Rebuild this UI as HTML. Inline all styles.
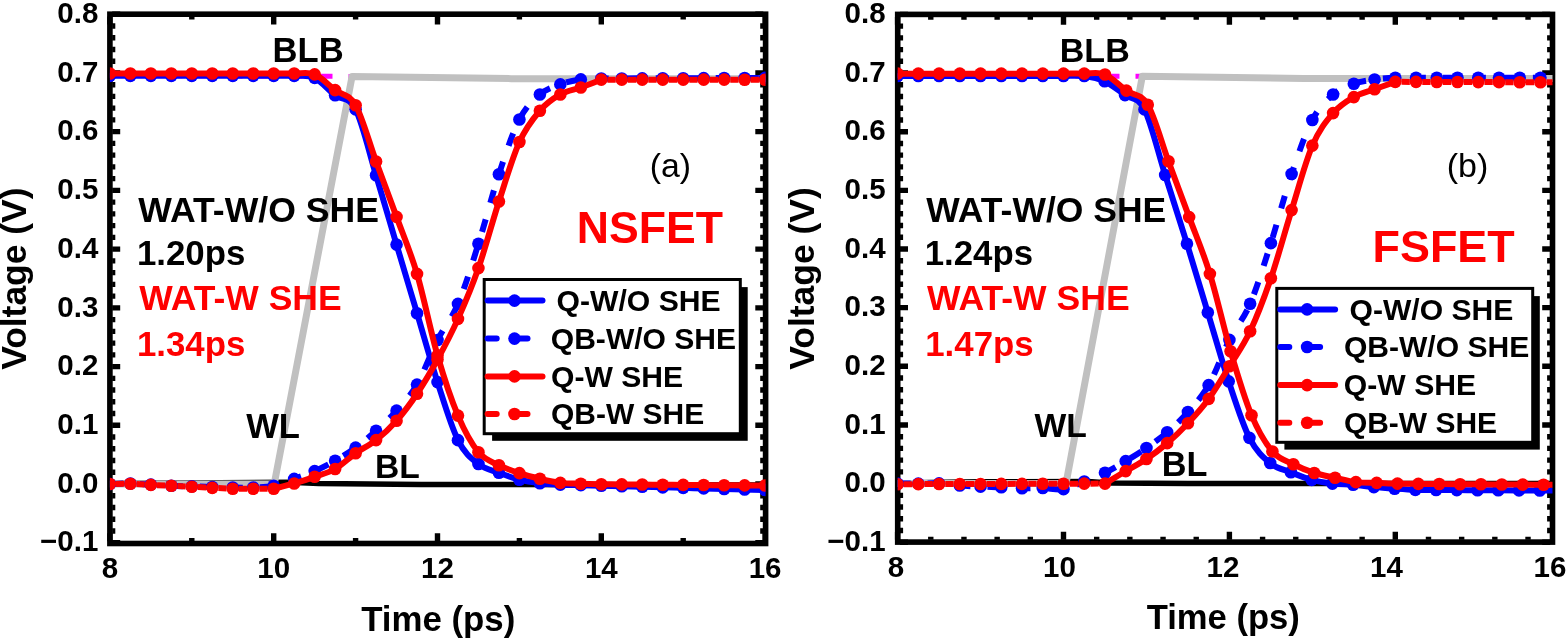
<!DOCTYPE html>
<html><head><meta charset="utf-8"><title>Voltage vs Time</title>
<style>html,body{margin:0;padding:0;background:#fff;}svg{display:block;}</style>
</head><body>
<svg width="1566" height="639" viewBox="0 0 1566 639" font-family="'Liberation Sans', Arial, sans-serif">
<rect width="1566" height="639" fill="#fff"/>
<rect x="109.9" y="14.2" width="655.7" height="529.3" fill="none" stroke="#000" stroke-width="5.6"/>
<path d="M112.20,542.77 h8.0 M763.30,542.77 h-8.0 M112.20,531.02 h3.1 M763.30,531.02 h-3.1 M112.20,519.28 h3.1 M763.30,519.28 h-3.1 M112.20,507.53 h3.1 M763.30,507.53 h-3.1 M112.20,495.79 h3.1 M763.30,495.79 h-3.1 M112.20,484.04 h8.0 M763.30,484.04 h-8.0 M112.20,472.29 h3.1 M763.30,472.29 h-3.1 M112.20,460.55 h3.1 M763.30,460.55 h-3.1 M112.20,448.80 h3.1 M763.30,448.80 h-3.1 M112.20,437.06 h3.1 M763.30,437.06 h-3.1 M112.20,425.31 h8.0 M763.30,425.31 h-8.0 M112.20,413.56 h3.1 M763.30,413.56 h-3.1 M112.20,401.82 h3.1 M763.30,401.82 h-3.1 M112.20,390.07 h3.1 M763.30,390.07 h-3.1 M112.20,378.33 h3.1 M763.30,378.33 h-3.1 M112.20,366.58 h8.0 M763.30,366.58 h-8.0 M112.20,354.83 h3.1 M763.30,354.83 h-3.1 M112.20,343.09 h3.1 M763.30,343.09 h-3.1 M112.20,331.34 h3.1 M763.30,331.34 h-3.1 M112.20,319.60 h3.1 M763.30,319.60 h-3.1 M112.20,307.85 h8.0 M763.30,307.85 h-8.0 M112.20,296.10 h3.1 M763.30,296.10 h-3.1 M112.20,284.36 h3.1 M763.30,284.36 h-3.1 M112.20,272.61 h3.1 M763.30,272.61 h-3.1 M112.20,260.87 h3.1 M763.30,260.87 h-3.1 M112.20,249.12 h8.0 M763.30,249.12 h-8.0 M112.20,237.37 h3.1 M763.30,237.37 h-3.1 M112.20,225.63 h3.1 M763.30,225.63 h-3.1 M112.20,213.88 h3.1 M763.30,213.88 h-3.1 M112.20,202.14 h3.1 M763.30,202.14 h-3.1 M112.20,190.39 h8.0 M763.30,190.39 h-8.0 M112.20,178.64 h3.1 M763.30,178.64 h-3.1 M112.20,166.90 h3.1 M763.30,166.90 h-3.1 M112.20,155.15 h3.1 M763.30,155.15 h-3.1 M112.20,143.41 h3.1 M763.30,143.41 h-3.1 M112.20,131.66 h8.0 M763.30,131.66 h-8.0 M112.20,119.91 h3.1 M763.30,119.91 h-3.1 M112.20,108.17 h3.1 M763.30,108.17 h-3.1 M112.20,96.42 h3.1 M763.30,96.42 h-3.1 M112.20,84.68 h3.1 M763.30,84.68 h-3.1 M112.20,72.93 h8.0 M763.30,72.93 h-8.0 M112.20,61.18 h3.1 M763.30,61.18 h-3.1 M112.20,49.44 h3.1 M763.30,49.44 h-3.1 M112.20,37.69 h3.1 M763.30,37.69 h-3.1 M112.20,25.95 h3.1 M763.30,25.95 h-3.1 M112.20,14.20 h8.0 M763.30,14.20 h-8.0 M109.90,541.20 v-8.0 M109.90,16.50 v8.0 M191.80,541.20 v-3.1 M191.80,16.50 v3.1 M273.70,541.20 v-8.0 M273.70,16.50 v8.0 M355.60,541.20 v-3.1 M355.60,16.50 v3.1 M437.50,541.20 v-8.0 M437.50,16.50 v8.0 M519.40,541.20 v-3.1 M519.40,16.50 v3.1 M601.30,541.20 v-8.0 M601.30,16.50 v8.0 M683.20,541.20 v-3.1 M683.20,16.50 v3.1 M765.10,541.20 v-8.0 M765.10,16.50 v8.0" stroke="#000" stroke-width="5.4" fill="none"/>
<clipPath id="ca"><rect x="109.9" y="14.2" width="655.7" height="529.3"/></clipPath>
<g clip-path="url(#ca)">
<path d="M101.71,75.28 L352.08,76.45 L511.21,78.63 L773.29,78.80" fill="none" stroke="#ff00ff" stroke-width="5" stroke-dasharray="14 16" stroke-dashoffset="23.2"/>
<path d="M101.71,483.57 L290.08,482.16 L318.75,483.57 L421.12,484.45 L773.29,484.92" fill="none" stroke="#000" stroke-width="5.5"/>
<path d="M101.71,484.04 L274.19,484.04 L352.08,76.45 L511.21,78.63 L773.29,78.80" fill="none" stroke="#c0c0c0" stroke-width="7" stroke-linejoin="round"/>
<path d="M109.90,484.04 C113.31,483.94 123.55,483.35 130.38,483.45 C137.20,483.55 144.03,484.24 150.85,484.63 C157.68,485.02 164.50,485.51 171.33,485.80 C178.15,486.10 184.98,486.19 191.80,486.39 C198.62,486.58 205.45,486.78 212.28,486.98 C219.10,487.17 225.93,487.47 232.75,487.56 C239.57,487.66 246.40,487.86 253.23,487.56 C260.05,487.27 266.88,487.25 273.70,485.80 C280.53,484.35 287.35,481.32 294.18,478.87 C301.00,476.42 307.82,474.13 314.65,471.12 C321.47,468.10 328.30,464.70 335.12,460.78 C341.95,456.87 348.78,452.64 355.60,447.63 C362.43,442.62 369.25,436.88 376.08,430.71 C382.90,424.55 389.73,418.31 396.55,410.63 C403.38,402.94 410.20,396.39 417.02,384.61 C423.85,372.83 430.68,353.42 437.50,339.98 C444.32,326.53 451.15,319.95 457.98,303.92 C464.80,287.88 471.63,265.40 478.45,243.78 C485.28,222.15 492.10,194.89 498.93,174.18 C505.75,153.47 512.58,132.80 519.40,119.50 C526.22,106.21 533.05,100.28 539.88,94.43 C546.70,88.57 553.52,86.89 560.35,84.38 C567.18,81.88 574.00,80.37 580.83,79.39 C587.65,78.41 594.48,78.67 601.30,78.51 C608.13,78.35 614.95,78.46 621.78,78.44 C628.60,78.41 635.42,78.39 642.25,78.36 C649.08,78.34 655.90,78.31 662.73,78.29 C669.55,78.26 676.38,78.24 683.20,78.22 C690.03,78.19 696.85,78.17 703.68,78.14 C710.50,78.12 717.33,78.09 724.15,78.07 C730.97,78.04 737.80,78.02 744.62,78.00 C751.45,77.97 761.69,77.93 765.10,77.92" fill="none" stroke="#0000ff" stroke-width="6.0" stroke-dasharray="13 17"/>
<circle cx="109.90" cy="484.04" r="6.3" fill="#0000ff"/>
<circle cx="130.38" cy="483.45" r="6.3" fill="#0000ff"/>
<circle cx="150.85" cy="484.63" r="6.3" fill="#0000ff"/>
<circle cx="171.33" cy="485.80" r="6.3" fill="#0000ff"/>
<circle cx="191.80" cy="486.39" r="6.3" fill="#0000ff"/>
<circle cx="212.28" cy="486.98" r="6.3" fill="#0000ff"/>
<circle cx="232.75" cy="487.56" r="6.3" fill="#0000ff"/>
<circle cx="253.23" cy="487.56" r="6.3" fill="#0000ff"/>
<circle cx="273.70" cy="485.80" r="6.3" fill="#0000ff"/>
<circle cx="294.18" cy="478.87" r="6.3" fill="#0000ff"/>
<circle cx="314.65" cy="471.12" r="6.3" fill="#0000ff"/>
<circle cx="335.12" cy="460.78" r="6.3" fill="#0000ff"/>
<circle cx="355.60" cy="447.63" r="6.3" fill="#0000ff"/>
<circle cx="376.08" cy="430.71" r="6.3" fill="#0000ff"/>
<circle cx="396.55" cy="410.63" r="6.3" fill="#0000ff"/>
<circle cx="417.02" cy="384.61" r="6.3" fill="#0000ff"/>
<circle cx="437.50" cy="339.98" r="6.3" fill="#0000ff"/>
<circle cx="457.98" cy="303.92" r="6.3" fill="#0000ff"/>
<circle cx="478.45" cy="243.78" r="6.3" fill="#0000ff"/>
<circle cx="498.93" cy="174.18" r="6.3" fill="#0000ff"/>
<circle cx="519.40" cy="119.50" r="6.3" fill="#0000ff"/>
<circle cx="539.88" cy="94.43" r="6.3" fill="#0000ff"/>
<circle cx="560.35" cy="84.38" r="6.3" fill="#0000ff"/>
<circle cx="580.83" cy="79.39" r="6.3" fill="#0000ff"/>
<circle cx="601.30" cy="78.51" r="6.3" fill="#0000ff"/>
<circle cx="621.78" cy="78.44" r="6.3" fill="#0000ff"/>
<circle cx="642.25" cy="78.36" r="6.3" fill="#0000ff"/>
<circle cx="662.73" cy="78.29" r="6.3" fill="#0000ff"/>
<circle cx="683.20" cy="78.22" r="6.3" fill="#0000ff"/>
<circle cx="703.68" cy="78.14" r="6.3" fill="#0000ff"/>
<circle cx="724.15" cy="78.07" r="6.3" fill="#0000ff"/>
<circle cx="744.62" cy="78.00" r="6.3" fill="#0000ff"/>
<circle cx="765.10" cy="77.92" r="6.3" fill="#0000ff"/>
<path d="M109.90,75.87 C113.31,75.87 123.55,75.87 130.38,75.87 C137.20,75.87 144.03,75.87 150.85,75.87 C157.68,75.87 164.50,75.87 171.33,75.87 C178.15,75.87 184.98,75.87 191.80,75.87 C198.62,75.87 205.45,75.87 212.28,75.87 C219.10,75.87 225.93,75.87 232.75,75.87 C239.57,75.87 246.40,75.87 253.23,75.87 C260.05,75.87 266.88,75.87 273.70,75.87 C280.53,75.87 287.35,75.52 294.18,75.87 C301.00,76.21 307.82,74.69 314.65,77.92 C321.47,81.15 328.30,90.01 335.12,95.25 C341.95,100.48 348.78,96.00 355.60,109.34 C362.43,122.68 369.25,152.75 376.08,175.30 C382.90,197.84 389.73,221.61 396.55,244.60 C403.38,267.58 410.20,290.28 417.02,313.19 C423.85,336.11 430.68,360.92 437.50,382.08 C444.32,403.25 451.15,426.51 457.98,440.17 C464.80,453.82 471.63,458.59 478.45,464.01 C485.28,469.44 492.10,470.09 498.93,472.71 C505.75,475.32 512.58,477.94 519.40,479.69 C526.22,481.45 533.05,482.40 539.88,483.22 C546.70,484.04 553.52,484.30 560.35,484.63 C567.18,484.95 574.00,484.99 580.83,485.17 C587.65,485.35 594.48,485.53 601.30,485.71 C608.13,485.89 614.95,486.07 621.78,486.25 C628.60,486.43 635.42,486.61 642.25,486.79 C649.08,486.97 655.90,487.15 662.73,487.33 C669.55,487.51 676.38,487.69 683.20,487.87 C690.03,488.05 696.85,488.23 703.68,488.41 C710.50,488.59 717.33,488.77 724.15,488.95 C730.97,489.13 737.80,489.31 744.62,489.49 C751.45,489.67 761.69,489.94 765.10,490.03" fill="none" stroke="#0000ff" stroke-width="6.0" stroke-linejoin="round"/>
<circle cx="109.90" cy="75.87" r="6.3" fill="#0000ff"/>
<circle cx="130.38" cy="75.87" r="6.3" fill="#0000ff"/>
<circle cx="150.85" cy="75.87" r="6.3" fill="#0000ff"/>
<circle cx="171.33" cy="75.87" r="6.3" fill="#0000ff"/>
<circle cx="191.80" cy="75.87" r="6.3" fill="#0000ff"/>
<circle cx="212.28" cy="75.87" r="6.3" fill="#0000ff"/>
<circle cx="232.75" cy="75.87" r="6.3" fill="#0000ff"/>
<circle cx="253.23" cy="75.87" r="6.3" fill="#0000ff"/>
<circle cx="273.70" cy="75.87" r="6.3" fill="#0000ff"/>
<circle cx="294.18" cy="75.87" r="6.3" fill="#0000ff"/>
<circle cx="314.65" cy="77.92" r="6.3" fill="#0000ff"/>
<circle cx="335.12" cy="95.25" r="6.3" fill="#0000ff"/>
<circle cx="355.60" cy="109.34" r="6.3" fill="#0000ff"/>
<circle cx="376.08" cy="175.30" r="6.3" fill="#0000ff"/>
<circle cx="396.55" cy="244.60" r="6.3" fill="#0000ff"/>
<circle cx="417.02" cy="313.19" r="6.3" fill="#0000ff"/>
<circle cx="437.50" cy="382.08" r="6.3" fill="#0000ff"/>
<circle cx="457.98" cy="440.17" r="6.3" fill="#0000ff"/>
<circle cx="478.45" cy="464.01" r="6.3" fill="#0000ff"/>
<circle cx="498.93" cy="472.71" r="6.3" fill="#0000ff"/>
<circle cx="519.40" cy="479.69" r="6.3" fill="#0000ff"/>
<circle cx="539.88" cy="483.22" r="6.3" fill="#0000ff"/>
<circle cx="560.35" cy="484.63" r="6.3" fill="#0000ff"/>
<circle cx="580.83" cy="485.17" r="6.3" fill="#0000ff"/>
<circle cx="601.30" cy="485.71" r="6.3" fill="#0000ff"/>
<circle cx="621.78" cy="486.25" r="6.3" fill="#0000ff"/>
<circle cx="642.25" cy="486.79" r="6.3" fill="#0000ff"/>
<circle cx="662.73" cy="487.33" r="6.3" fill="#0000ff"/>
<circle cx="683.20" cy="487.87" r="6.3" fill="#0000ff"/>
<circle cx="703.68" cy="488.41" r="6.3" fill="#0000ff"/>
<circle cx="724.15" cy="488.95" r="6.3" fill="#0000ff"/>
<circle cx="744.62" cy="489.49" r="6.3" fill="#0000ff"/>
<circle cx="765.10" cy="490.03" r="6.3" fill="#0000ff"/>
<line x1="116.04" y1="483.95" x2="124.23" y2="483.83" stroke="#ff0000" stroke-width="6.0"/>
<line x1="136.52" y1="484.10" x2="144.71" y2="484.57" stroke="#ff0000" stroke-width="6.0"/>
<line x1="156.99" y1="485.19" x2="165.18" y2="485.54" stroke="#ff0000" stroke-width="6.0"/>
<line x1="177.47" y1="486.07" x2="185.66" y2="486.42" stroke="#ff0000" stroke-width="6.0"/>
<line x1="197.94" y1="487.04" x2="206.13" y2="487.51" stroke="#ff0000" stroke-width="6.0"/>
<line x1="218.42" y1="488.12" x2="226.61" y2="488.47" stroke="#ff0000" stroke-width="6.0"/>
<line x1="238.89" y1="488.74" x2="247.08" y2="488.74" stroke="#ff0000" stroke-width="6.0"/>
<line x1="259.37" y1="488.74" x2="267.56" y2="488.74" stroke="#ff0000" stroke-width="6.0"/>
<path d="M273.70,488.74 C277.11,487.86 287.35,485.44 294.18,483.45 C301.00,481.47 307.82,479.22 314.65,476.82 C321.47,474.41 328.30,472.94 335.12,469.01 C341.95,465.07 348.78,458.02 355.60,453.21 C362.43,448.39 369.25,445.51 376.08,440.11 C382.90,434.71 389.73,428.51 396.55,420.79 C403.38,413.06 410.20,403.98 417.02,393.77 C423.85,383.56 430.68,372.01 437.50,359.53 C444.32,347.05 451.15,334.13 457.98,318.89 C464.80,303.65 471.63,287.66 478.45,268.09 C485.28,248.52 492.10,222.51 498.93,201.49 C505.75,180.47 512.58,157.13 519.40,142.00 C526.22,126.86 533.05,118.62 539.88,110.69 C546.70,102.76 553.52,98.29 560.35,94.43 C567.18,90.56 574.00,89.96 580.83,87.50 C587.65,85.03 597.89,80.94 601.30,79.63" fill="none" stroke="#ff0000" stroke-width="6.0" stroke-linejoin="round"/>
<line x1="607.44" y1="79.63" x2="615.63" y2="79.63" stroke="#ff0000" stroke-width="6.0"/>
<line x1="627.92" y1="79.63" x2="636.11" y2="79.64" stroke="#ff0000" stroke-width="6.0"/>
<line x1="648.39" y1="79.64" x2="656.58" y2="79.65" stroke="#ff0000" stroke-width="6.0"/>
<line x1="668.87" y1="79.65" x2="677.06" y2="79.65" stroke="#ff0000" stroke-width="6.0"/>
<line x1="689.34" y1="79.66" x2="697.53" y2="79.66" stroke="#ff0000" stroke-width="6.0"/>
<line x1="709.82" y1="79.66" x2="718.01" y2="79.67" stroke="#ff0000" stroke-width="6.0"/>
<line x1="730.29" y1="79.67" x2="738.48" y2="79.67" stroke="#ff0000" stroke-width="6.0"/>
<line x1="750.77" y1="79.68" x2="758.96" y2="79.68" stroke="#ff0000" stroke-width="6.0"/>
<circle cx="109.90" cy="484.04" r="6.3" fill="#ff0000"/>
<circle cx="130.38" cy="483.75" r="6.3" fill="#ff0000"/>
<circle cx="150.85" cy="484.92" r="6.3" fill="#ff0000"/>
<circle cx="171.33" cy="485.80" r="6.3" fill="#ff0000"/>
<circle cx="191.80" cy="486.68" r="6.3" fill="#ff0000"/>
<circle cx="212.28" cy="487.86" r="6.3" fill="#ff0000"/>
<circle cx="232.75" cy="488.74" r="6.3" fill="#ff0000"/>
<circle cx="253.23" cy="488.74" r="6.3" fill="#ff0000"/>
<circle cx="273.70" cy="488.74" r="6.3" fill="#ff0000"/>
<circle cx="294.18" cy="483.45" r="6.3" fill="#ff0000"/>
<circle cx="314.65" cy="476.82" r="6.3" fill="#ff0000"/>
<circle cx="335.12" cy="469.01" r="6.3" fill="#ff0000"/>
<circle cx="355.60" cy="453.21" r="6.3" fill="#ff0000"/>
<circle cx="376.08" cy="440.11" r="6.3" fill="#ff0000"/>
<circle cx="396.55" cy="420.79" r="6.3" fill="#ff0000"/>
<circle cx="417.02" cy="393.77" r="6.3" fill="#ff0000"/>
<circle cx="437.50" cy="359.53" r="6.3" fill="#ff0000"/>
<circle cx="457.98" cy="318.89" r="6.3" fill="#ff0000"/>
<circle cx="478.45" cy="268.09" r="6.3" fill="#ff0000"/>
<circle cx="498.93" cy="201.49" r="6.3" fill="#ff0000"/>
<circle cx="519.40" cy="142.00" r="6.3" fill="#ff0000"/>
<circle cx="539.88" cy="110.69" r="6.3" fill="#ff0000"/>
<circle cx="560.35" cy="94.43" r="6.3" fill="#ff0000"/>
<circle cx="580.83" cy="87.50" r="6.3" fill="#ff0000"/>
<circle cx="601.30" cy="79.63" r="6.3" fill="#ff0000"/>
<circle cx="621.78" cy="79.63" r="6.3" fill="#ff0000"/>
<circle cx="642.25" cy="79.64" r="6.3" fill="#ff0000"/>
<circle cx="662.73" cy="79.65" r="6.3" fill="#ff0000"/>
<circle cx="683.20" cy="79.65" r="6.3" fill="#ff0000"/>
<circle cx="703.68" cy="79.66" r="6.3" fill="#ff0000"/>
<circle cx="724.15" cy="79.67" r="6.3" fill="#ff0000"/>
<circle cx="744.62" cy="79.68" r="6.3" fill="#ff0000"/>
<circle cx="765.10" cy="79.68" r="6.3" fill="#ff0000"/>
<path d="M109.90,73.52 C113.31,73.52 123.55,73.52 130.38,73.52 C137.20,73.52 144.03,73.52 150.85,73.52 C157.68,73.52 164.50,73.52 171.33,73.52 C178.15,73.52 184.98,73.52 191.80,73.52 C198.62,73.52 205.45,73.52 212.28,73.52 C219.10,73.52 225.93,73.52 232.75,73.52 C239.57,73.52 246.40,73.52 253.23,73.52 C260.05,73.52 266.88,73.52 273.70,73.52 C280.53,73.52 287.35,73.37 294.18,73.52 C301.00,73.66 307.82,71.64 314.65,74.40 C321.47,77.16 328.30,84.94 335.12,90.08 C341.95,95.22 348.78,93.33 355.60,105.23 C362.43,117.13 369.25,142.89 376.08,161.49 C382.90,180.10 389.73,198.14 396.55,216.88 C403.38,235.61 410.20,250.81 417.02,273.90 C423.85,296.99 430.68,331.80 437.50,355.42 C444.32,379.04 451.15,399.49 457.98,415.62 C464.80,431.75 471.63,443.95 478.45,452.21 C485.28,460.47 492.10,461.69 498.93,465.19 C505.75,468.68 512.58,470.91 519.40,473.17 C526.22,475.44 533.05,477.14 539.88,478.75 C546.70,480.37 553.52,482.03 560.35,482.87 C567.18,483.70 574.00,483.52 580.83,483.75 C587.65,483.97 594.48,484.11 601.30,484.22 C608.13,484.32 614.95,484.33 621.78,484.39 C628.60,484.44 635.42,484.50 642.25,484.55 C649.08,484.61 655.90,484.67 662.73,484.72 C669.55,484.78 676.38,484.84 683.20,484.89 C690.03,484.95 696.85,485.00 703.68,485.06 C710.50,485.12 717.33,485.17 724.15,485.23 C730.97,485.29 737.80,485.34 744.62,485.40 C751.45,485.45 761.69,485.54 765.10,485.57" fill="none" stroke="#ff0000" stroke-width="6.0" stroke-linejoin="round"/>
<circle cx="109.90" cy="73.52" r="6.3" fill="#ff0000"/>
<circle cx="130.38" cy="73.52" r="6.3" fill="#ff0000"/>
<circle cx="150.85" cy="73.52" r="6.3" fill="#ff0000"/>
<circle cx="171.33" cy="73.52" r="6.3" fill="#ff0000"/>
<circle cx="191.80" cy="73.52" r="6.3" fill="#ff0000"/>
<circle cx="212.28" cy="73.52" r="6.3" fill="#ff0000"/>
<circle cx="232.75" cy="73.52" r="6.3" fill="#ff0000"/>
<circle cx="253.23" cy="73.52" r="6.3" fill="#ff0000"/>
<circle cx="273.70" cy="73.52" r="6.3" fill="#ff0000"/>
<circle cx="294.18" cy="73.52" r="6.3" fill="#ff0000"/>
<circle cx="314.65" cy="74.40" r="6.3" fill="#ff0000"/>
<circle cx="335.12" cy="90.08" r="6.3" fill="#ff0000"/>
<circle cx="355.60" cy="105.23" r="6.3" fill="#ff0000"/>
<circle cx="376.08" cy="161.49" r="6.3" fill="#ff0000"/>
<circle cx="396.55" cy="216.88" r="6.3" fill="#ff0000"/>
<circle cx="417.02" cy="273.90" r="6.3" fill="#ff0000"/>
<circle cx="437.50" cy="355.42" r="6.3" fill="#ff0000"/>
<circle cx="457.98" cy="415.62" r="6.3" fill="#ff0000"/>
<circle cx="478.45" cy="452.21" r="6.3" fill="#ff0000"/>
<circle cx="498.93" cy="465.19" r="6.3" fill="#ff0000"/>
<circle cx="519.40" cy="473.17" r="6.3" fill="#ff0000"/>
<circle cx="539.88" cy="478.75" r="6.3" fill="#ff0000"/>
<circle cx="560.35" cy="482.87" r="6.3" fill="#ff0000"/>
<circle cx="580.83" cy="483.75" r="6.3" fill="#ff0000"/>
<circle cx="601.30" cy="484.22" r="6.3" fill="#ff0000"/>
<circle cx="621.78" cy="484.39" r="6.3" fill="#ff0000"/>
<circle cx="642.25" cy="484.55" r="6.3" fill="#ff0000"/>
<circle cx="662.73" cy="484.72" r="6.3" fill="#ff0000"/>
<circle cx="683.20" cy="484.89" r="6.3" fill="#ff0000"/>
<circle cx="703.68" cy="485.06" r="6.3" fill="#ff0000"/>
<circle cx="724.15" cy="485.23" r="6.3" fill="#ff0000"/>
<circle cx="744.62" cy="485.40" r="6.3" fill="#ff0000"/>
<circle cx="765.10" cy="485.57" r="6.3" fill="#ff0000"/>
</g>
<rect x="897.7" y="14.4" width="654.8" height="527.7" fill="none" stroke="#000" stroke-width="5.6"/>
<path d="M900.00,542.25 h8.0 M1550.20,542.25 h-8.0 M900.00,530.52 h3.1 M1550.20,530.52 h-3.1 M900.00,518.79 h3.1 M1550.20,518.79 h-3.1 M900.00,507.06 h3.1 M1550.20,507.06 h-3.1 M900.00,495.33 h3.1 M1550.20,495.33 h-3.1 M900.00,483.60 h8.0 M1550.20,483.60 h-8.0 M900.00,471.87 h3.1 M1550.20,471.87 h-3.1 M900.00,460.14 h3.1 M1550.20,460.14 h-3.1 M900.00,448.41 h3.1 M1550.20,448.41 h-3.1 M900.00,436.68 h3.1 M1550.20,436.68 h-3.1 M900.00,424.95 h8.0 M1550.20,424.95 h-8.0 M900.00,413.22 h3.1 M1550.20,413.22 h-3.1 M900.00,401.49 h3.1 M1550.20,401.49 h-3.1 M900.00,389.76 h3.1 M1550.20,389.76 h-3.1 M900.00,378.03 h3.1 M1550.20,378.03 h-3.1 M900.00,366.30 h8.0 M1550.20,366.30 h-8.0 M900.00,354.57 h3.1 M1550.20,354.57 h-3.1 M900.00,342.84 h3.1 M1550.20,342.84 h-3.1 M900.00,331.11 h3.1 M1550.20,331.11 h-3.1 M900.00,319.38 h3.1 M1550.20,319.38 h-3.1 M900.00,307.65 h8.0 M1550.20,307.65 h-8.0 M900.00,295.92 h3.1 M1550.20,295.92 h-3.1 M900.00,284.19 h3.1 M1550.20,284.19 h-3.1 M900.00,272.46 h3.1 M1550.20,272.46 h-3.1 M900.00,260.73 h3.1 M1550.20,260.73 h-3.1 M900.00,249.00 h8.0 M1550.20,249.00 h-8.0 M900.00,237.27 h3.1 M1550.20,237.27 h-3.1 M900.00,225.54 h3.1 M1550.20,225.54 h-3.1 M900.00,213.81 h3.1 M1550.20,213.81 h-3.1 M900.00,202.08 h3.1 M1550.20,202.08 h-3.1 M900.00,190.35 h8.0 M1550.20,190.35 h-8.0 M900.00,178.62 h3.1 M1550.20,178.62 h-3.1 M900.00,166.89 h3.1 M1550.20,166.89 h-3.1 M900.00,155.16 h3.1 M1550.20,155.16 h-3.1 M900.00,143.43 h3.1 M1550.20,143.43 h-3.1 M900.00,131.70 h8.0 M1550.20,131.70 h-8.0 M900.00,119.97 h3.1 M1550.20,119.97 h-3.1 M900.00,108.24 h3.1 M1550.20,108.24 h-3.1 M900.00,96.51 h3.1 M1550.20,96.51 h-3.1 M900.00,84.78 h3.1 M1550.20,84.78 h-3.1 M900.00,73.05 h8.0 M1550.20,73.05 h-8.0 M900.00,61.32 h3.1 M1550.20,61.32 h-3.1 M900.00,49.59 h3.1 M1550.20,49.59 h-3.1 M900.00,37.86 h3.1 M1550.20,37.86 h-3.1 M900.00,26.13 h3.1 M1550.20,26.13 h-3.1 M900.00,14.40 h8.0 M1550.20,14.40 h-8.0 M897.60,539.80 v-8.0 M897.60,16.70 v8.0 M930.78,539.80 v-3.1 M930.78,16.70 v3.1 M963.96,539.80 v-3.1 M963.96,16.70 v3.1 M997.14,539.80 v-3.1 M997.14,16.70 v3.1 M1030.32,539.80 v-3.1 M1030.32,16.70 v3.1 M1063.50,539.80 v-8.0 M1063.50,16.70 v8.0 M1096.68,539.80 v-3.1 M1096.68,16.70 v3.1 M1129.86,539.80 v-3.1 M1129.86,16.70 v3.1 M1163.04,539.80 v-3.1 M1163.04,16.70 v3.1 M1196.22,539.80 v-3.1 M1196.22,16.70 v3.1 M1229.40,539.80 v-8.0 M1229.40,16.70 v8.0 M1262.58,539.80 v-3.1 M1262.58,16.70 v3.1 M1295.76,539.80 v-3.1 M1295.76,16.70 v3.1 M1328.94,539.80 v-3.1 M1328.94,16.70 v3.1 M1362.12,539.80 v-3.1 M1362.12,16.70 v3.1 M1395.30,539.80 v-8.0 M1395.30,16.70 v8.0 M1428.48,539.80 v-3.1 M1428.48,16.70 v3.1 M1461.66,539.80 v-3.1 M1461.66,16.70 v3.1 M1494.84,539.80 v-3.1 M1494.84,16.70 v3.1 M1528.02,539.80 v-3.1 M1528.02,16.70 v3.1" stroke="#000" stroke-width="5.4" fill="none"/>
<clipPath id="cb"><rect x="897.7" y="14.4" width="654.8" height="527.7"/></clipPath>
<g clip-path="url(#cb)">
<path d="M889.31,75.69 L1142.30,76.28 L1304.06,78.50 L1569.50,78.68" fill="none" stroke="#ff00ff" stroke-width="5" stroke-dasharray="14 16" stroke-dashoffset="23.8"/>
<path d="M889.31,483.13 L980.55,481.72 L1088.38,481.49 L1109.12,482.90 L1187.92,483.60 L1569.50,483.48" fill="none" stroke="#000" stroke-width="5.5"/>
<path d="M889.31,483.60 L1065.99,483.60 L1142.30,76.28 L1304.06,78.39 L1569.50,78.56" fill="none" stroke="#c0c0c0" stroke-width="7" stroke-linejoin="round"/>
<path d="M897.60,483.60 C901.06,483.60 911.42,483.63 918.34,483.60 C925.25,483.57 932.16,483.10 939.08,483.42 C945.99,483.75 952.90,485.00 959.81,485.54 C966.73,486.07 973.64,486.37 980.55,486.65 C987.46,486.93 994.38,486.97 1001.29,487.24 C1008.20,487.50 1015.11,488.11 1022.03,488.23 C1028.94,488.36 1035.85,487.84 1042.76,488.00 C1049.67,488.16 1056.59,490.26 1063.50,489.17 C1070.41,488.09 1077.33,484.23 1084.24,481.49 C1091.15,478.75 1098.06,476.14 1104.97,472.75 C1111.89,469.36 1118.80,465.27 1125.71,461.14 C1132.62,457.00 1139.54,452.76 1146.45,447.94 C1153.36,443.12 1160.28,438.20 1167.19,432.22 C1174.10,426.24 1181.01,419.90 1187.92,412.05 C1194.84,404.20 1201.75,397.15 1208.66,385.13 C1215.57,373.10 1222.49,353.47 1229.40,339.91 C1236.31,326.35 1243.23,319.91 1250.14,303.78 C1257.05,287.65 1263.96,264.78 1270.88,243.14 C1277.79,221.49 1284.70,194.46 1291.61,173.93 C1298.52,153.40 1305.44,133.20 1312.35,119.97 C1319.26,106.74 1326.18,100.61 1333.09,94.57 C1340.00,88.54 1346.91,86.30 1353.83,83.78 C1360.74,81.27 1367.65,80.51 1374.56,79.50 C1381.47,78.49 1388.39,78.04 1395.30,77.74 C1402.21,77.45 1409.12,77.74 1416.04,77.74 C1422.95,77.74 1429.86,77.74 1436.78,77.74 C1443.69,77.74 1450.60,77.74 1457.51,77.74 C1464.42,77.74 1471.34,77.74 1478.25,77.74 C1485.16,77.74 1492.08,77.74 1498.99,77.74 C1505.90,77.74 1512.81,77.74 1519.72,77.74 C1526.64,77.74 1533.55,77.74 1540.46,77.74 C1547.38,77.74 1557.74,77.74 1561.20,77.74" fill="none" stroke="#0000ff" stroke-width="6.0" stroke-dasharray="13 17"/>
<circle cx="897.60" cy="483.60" r="6.3" fill="#0000ff"/>
<circle cx="918.34" cy="483.60" r="6.3" fill="#0000ff"/>
<circle cx="939.08" cy="483.42" r="6.3" fill="#0000ff"/>
<circle cx="959.81" cy="485.54" r="6.3" fill="#0000ff"/>
<circle cx="980.55" cy="486.65" r="6.3" fill="#0000ff"/>
<circle cx="1001.29" cy="487.24" r="6.3" fill="#0000ff"/>
<circle cx="1022.03" cy="488.23" r="6.3" fill="#0000ff"/>
<circle cx="1042.76" cy="488.00" r="6.3" fill="#0000ff"/>
<circle cx="1063.50" cy="489.17" r="6.3" fill="#0000ff"/>
<circle cx="1084.24" cy="481.49" r="6.3" fill="#0000ff"/>
<circle cx="1104.97" cy="472.75" r="6.3" fill="#0000ff"/>
<circle cx="1125.71" cy="461.14" r="6.3" fill="#0000ff"/>
<circle cx="1146.45" cy="447.94" r="6.3" fill="#0000ff"/>
<circle cx="1167.19" cy="432.22" r="6.3" fill="#0000ff"/>
<circle cx="1187.92" cy="412.05" r="6.3" fill="#0000ff"/>
<circle cx="1208.66" cy="385.13" r="6.3" fill="#0000ff"/>
<circle cx="1229.40" cy="339.91" r="6.3" fill="#0000ff"/>
<circle cx="1250.14" cy="303.78" r="6.3" fill="#0000ff"/>
<circle cx="1270.88" cy="243.14" r="6.3" fill="#0000ff"/>
<circle cx="1291.61" cy="173.93" r="6.3" fill="#0000ff"/>
<circle cx="1312.35" cy="119.97" r="6.3" fill="#0000ff"/>
<circle cx="1333.09" cy="94.57" r="6.3" fill="#0000ff"/>
<circle cx="1353.83" cy="83.78" r="6.3" fill="#0000ff"/>
<circle cx="1374.56" cy="79.50" r="6.3" fill="#0000ff"/>
<circle cx="1395.30" cy="77.74" r="6.3" fill="#0000ff"/>
<circle cx="1416.04" cy="77.74" r="6.3" fill="#0000ff"/>
<circle cx="1436.78" cy="77.74" r="6.3" fill="#0000ff"/>
<circle cx="1457.51" cy="77.74" r="6.3" fill="#0000ff"/>
<circle cx="1478.25" cy="77.74" r="6.3" fill="#0000ff"/>
<circle cx="1498.99" cy="77.74" r="6.3" fill="#0000ff"/>
<circle cx="1519.72" cy="77.74" r="6.3" fill="#0000ff"/>
<circle cx="1540.46" cy="77.74" r="6.3" fill="#0000ff"/>
<circle cx="1561.20" cy="77.74" r="6.3" fill="#0000ff"/>
<path d="M897.60,75.98 C901.06,75.98 911.42,75.98 918.34,75.98 C925.25,75.98 932.16,75.98 939.08,75.98 C945.99,75.98 952.90,75.98 959.81,75.98 C966.73,75.98 973.64,75.98 980.55,75.98 C987.46,75.98 994.38,75.98 1001.29,75.98 C1008.20,75.98 1015.11,75.98 1022.03,75.98 C1028.94,75.98 1035.85,75.98 1042.76,75.98 C1049.67,75.98 1056.59,75.98 1063.50,75.98 C1070.41,75.98 1077.38,75.10 1084.24,75.98 C1091.09,76.86 1097.83,78.07 1104.62,81.26 C1111.42,84.45 1118.38,90.41 1125.01,95.10 C1131.65,99.79 1137.75,96.10 1144.45,109.41 C1151.15,122.73 1158.11,152.60 1165.19,174.98 C1172.27,197.37 1179.82,220.80 1186.92,243.72 C1194.03,266.64 1200.85,289.58 1207.81,312.52 C1214.78,335.46 1221.76,360.48 1228.70,381.37 C1235.64,402.26 1242.53,424.24 1249.44,437.85 C1256.35,451.47 1263.26,457.33 1270.17,463.07 C1277.09,468.81 1284.00,469.48 1290.91,472.28 C1297.82,475.09 1304.74,478.02 1311.65,479.91 C1318.56,481.79 1325.47,482.79 1332.39,483.60 C1339.30,484.41 1346.21,484.19 1353.12,484.77 C1360.04,485.36 1366.95,486.46 1373.86,487.12 C1380.78,487.77 1387.69,488.24 1394.60,488.70 C1401.51,489.16 1408.42,489.66 1415.34,489.88 C1422.25,490.09 1429.16,489.95 1436.08,489.98 C1442.99,490.02 1449.90,490.06 1456.81,490.09 C1463.72,490.13 1470.64,490.17 1477.55,490.20 C1484.46,490.24 1491.38,490.27 1498.29,490.31 C1505.20,490.35 1512.11,490.38 1519.02,490.42 C1525.94,490.46 1532.85,490.49 1539.76,490.53 C1546.68,490.57 1557.04,490.62 1560.50,490.64" fill="none" stroke="#0000ff" stroke-width="6.0" stroke-linejoin="round"/>
<circle cx="897.60" cy="75.98" r="6.3" fill="#0000ff"/>
<circle cx="918.34" cy="75.98" r="6.3" fill="#0000ff"/>
<circle cx="939.08" cy="75.98" r="6.3" fill="#0000ff"/>
<circle cx="959.81" cy="75.98" r="6.3" fill="#0000ff"/>
<circle cx="980.55" cy="75.98" r="6.3" fill="#0000ff"/>
<circle cx="1001.29" cy="75.98" r="6.3" fill="#0000ff"/>
<circle cx="1022.03" cy="75.98" r="6.3" fill="#0000ff"/>
<circle cx="1042.76" cy="75.98" r="6.3" fill="#0000ff"/>
<circle cx="1063.50" cy="75.98" r="6.3" fill="#0000ff"/>
<circle cx="1084.24" cy="75.98" r="6.3" fill="#0000ff"/>
<circle cx="1104.62" cy="81.26" r="6.3" fill="#0000ff"/>
<circle cx="1125.01" cy="95.10" r="6.3" fill="#0000ff"/>
<circle cx="1144.45" cy="109.41" r="6.3" fill="#0000ff"/>
<circle cx="1165.19" cy="174.98" r="6.3" fill="#0000ff"/>
<circle cx="1186.92" cy="243.72" r="6.3" fill="#0000ff"/>
<circle cx="1207.81" cy="312.52" r="6.3" fill="#0000ff"/>
<circle cx="1228.70" cy="381.37" r="6.3" fill="#0000ff"/>
<circle cx="1249.44" cy="437.85" r="6.3" fill="#0000ff"/>
<circle cx="1270.17" cy="463.07" r="6.3" fill="#0000ff"/>
<circle cx="1290.91" cy="472.28" r="6.3" fill="#0000ff"/>
<circle cx="1311.65" cy="479.91" r="6.3" fill="#0000ff"/>
<circle cx="1332.39" cy="483.60" r="6.3" fill="#0000ff"/>
<circle cx="1353.12" cy="484.77" r="6.3" fill="#0000ff"/>
<circle cx="1373.86" cy="487.12" r="6.3" fill="#0000ff"/>
<circle cx="1394.60" cy="488.70" r="6.3" fill="#0000ff"/>
<circle cx="1415.34" cy="489.88" r="6.3" fill="#0000ff"/>
<circle cx="1436.08" cy="489.98" r="6.3" fill="#0000ff"/>
<circle cx="1456.81" cy="490.09" r="6.3" fill="#0000ff"/>
<circle cx="1477.55" cy="490.20" r="6.3" fill="#0000ff"/>
<circle cx="1498.29" cy="490.31" r="6.3" fill="#0000ff"/>
<circle cx="1519.02" cy="490.42" r="6.3" fill="#0000ff"/>
<circle cx="1539.76" cy="490.53" r="6.3" fill="#0000ff"/>
<circle cx="1560.50" cy="490.64" r="6.3" fill="#0000ff"/>
<line x1="903.82" y1="484.17" x2="912.12" y2="484.15" stroke="#ff0000" stroke-width="6.0"/>
<line x1="924.56" y1="484.11" x2="932.85" y2="484.09" stroke="#ff0000" stroke-width="6.0"/>
<line x1="945.30" y1="484.05" x2="953.59" y2="484.03" stroke="#ff0000" stroke-width="6.0"/>
<line x1="966.03" y1="483.99" x2="974.33" y2="483.97" stroke="#ff0000" stroke-width="6.0"/>
<line x1="986.77" y1="483.93" x2="995.07" y2="483.91" stroke="#ff0000" stroke-width="6.0"/>
<line x1="1007.51" y1="483.88" x2="1015.80" y2="483.85" stroke="#ff0000" stroke-width="6.0"/>
<line x1="1028.25" y1="483.82" x2="1036.54" y2="483.79" stroke="#ff0000" stroke-width="6.0"/>
<line x1="1048.98" y1="483.76" x2="1057.28" y2="483.73" stroke="#ff0000" stroke-width="6.0"/>
<line x1="1069.72" y1="483.70" x2="1078.02" y2="483.68" stroke="#ff0000" stroke-width="6.0"/>
<line x1="1090.46" y1="483.64" x2="1098.75" y2="483.62" stroke="#ff0000" stroke-width="6.0"/>
<path d="M1104.97,483.60 C1108.43,481.52 1118.80,475.21 1125.71,471.11 C1132.62,467.00 1139.54,463.63 1146.45,458.97 C1153.36,454.30 1160.28,449.09 1167.19,443.13 C1174.10,437.17 1181.01,430.56 1187.92,423.19 C1194.84,415.82 1201.75,408.39 1208.66,398.91 C1215.57,389.43 1222.49,377.57 1229.40,366.30 C1236.31,355.03 1243.23,345.95 1250.14,331.29 C1257.05,316.62 1263.96,298.52 1270.88,278.32 C1277.79,258.13 1284.70,232.24 1291.61,210.12 C1298.52,187.99 1305.44,161.77 1312.35,145.60 C1319.26,129.43 1326.18,121.19 1333.09,113.11 C1340.00,105.02 1346.91,101.07 1353.83,97.10 C1360.74,93.13 1367.65,91.84 1374.56,89.30 C1381.47,86.75 1391.84,83.09 1395.30,81.85" fill="none" stroke="#ff0000" stroke-width="6.0" stroke-linejoin="round"/>
<line x1="1401.52" y1="81.87" x2="1409.82" y2="81.89" stroke="#ff0000" stroke-width="6.0"/>
<line x1="1422.26" y1="81.92" x2="1430.55" y2="81.95" stroke="#ff0000" stroke-width="6.0"/>
<line x1="1443.00" y1="81.98" x2="1451.29" y2="82.01" stroke="#ff0000" stroke-width="6.0"/>
<line x1="1463.73" y1="82.04" x2="1472.03" y2="82.06" stroke="#ff0000" stroke-width="6.0"/>
<line x1="1484.47" y1="82.10" x2="1492.77" y2="82.12" stroke="#ff0000" stroke-width="6.0"/>
<line x1="1505.21" y1="82.16" x2="1513.50" y2="82.18" stroke="#ff0000" stroke-width="6.0"/>
<line x1="1525.95" y1="82.22" x2="1534.24" y2="82.24" stroke="#ff0000" stroke-width="6.0"/>
<line x1="1546.68" y1="82.28" x2="1554.98" y2="82.30" stroke="#ff0000" stroke-width="6.0"/>
<circle cx="897.60" cy="484.19" r="6.3" fill="#ff0000"/>
<circle cx="918.34" cy="484.13" r="6.3" fill="#ff0000"/>
<circle cx="939.08" cy="484.07" r="6.3" fill="#ff0000"/>
<circle cx="959.81" cy="484.01" r="6.3" fill="#ff0000"/>
<circle cx="980.55" cy="483.95" r="6.3" fill="#ff0000"/>
<circle cx="1001.29" cy="483.89" r="6.3" fill="#ff0000"/>
<circle cx="1022.03" cy="483.83" r="6.3" fill="#ff0000"/>
<circle cx="1042.76" cy="483.78" r="6.3" fill="#ff0000"/>
<circle cx="1063.50" cy="483.72" r="6.3" fill="#ff0000"/>
<circle cx="1084.24" cy="483.66" r="6.3" fill="#ff0000"/>
<circle cx="1104.97" cy="483.60" r="6.3" fill="#ff0000"/>
<circle cx="1125.71" cy="471.11" r="6.3" fill="#ff0000"/>
<circle cx="1146.45" cy="458.97" r="6.3" fill="#ff0000"/>
<circle cx="1167.19" cy="443.13" r="6.3" fill="#ff0000"/>
<circle cx="1187.92" cy="423.19" r="6.3" fill="#ff0000"/>
<circle cx="1208.66" cy="398.91" r="6.3" fill="#ff0000"/>
<circle cx="1229.40" cy="366.30" r="6.3" fill="#ff0000"/>
<circle cx="1250.14" cy="331.29" r="6.3" fill="#ff0000"/>
<circle cx="1270.88" cy="278.32" r="6.3" fill="#ff0000"/>
<circle cx="1291.61" cy="210.12" r="6.3" fill="#ff0000"/>
<circle cx="1312.35" cy="145.60" r="6.3" fill="#ff0000"/>
<circle cx="1333.09" cy="113.11" r="6.3" fill="#ff0000"/>
<circle cx="1353.83" cy="97.10" r="6.3" fill="#ff0000"/>
<circle cx="1374.56" cy="89.30" r="6.3" fill="#ff0000"/>
<circle cx="1395.30" cy="81.85" r="6.3" fill="#ff0000"/>
<circle cx="1416.04" cy="81.91" r="6.3" fill="#ff0000"/>
<circle cx="1436.78" cy="81.96" r="6.3" fill="#ff0000"/>
<circle cx="1457.51" cy="82.02" r="6.3" fill="#ff0000"/>
<circle cx="1478.25" cy="82.08" r="6.3" fill="#ff0000"/>
<circle cx="1498.99" cy="82.14" r="6.3" fill="#ff0000"/>
<circle cx="1519.72" cy="82.20" r="6.3" fill="#ff0000"/>
<circle cx="1540.46" cy="82.26" r="6.3" fill="#ff0000"/>
<circle cx="1561.20" cy="82.32" r="6.3" fill="#ff0000"/>
<path d="M897.60,73.64 C901.06,73.64 911.42,73.64 918.34,73.64 C925.25,73.64 932.16,73.64 939.08,73.64 C945.99,73.64 952.90,73.64 959.81,73.64 C966.73,73.64 973.64,73.64 980.55,73.64 C987.46,73.64 994.38,73.64 1001.29,73.64 C1008.20,73.64 1015.11,73.64 1022.03,73.64 C1028.94,73.64 1035.85,73.64 1042.76,73.64 C1049.67,73.64 1056.59,73.64 1063.50,73.64 C1070.41,73.64 1077.33,73.49 1084.24,73.64 C1091.15,73.78 1097.95,71.68 1104.97,74.52 C1112.00,77.35 1119.23,85.61 1126.36,90.65 C1133.49,95.68 1140.73,92.94 1147.75,104.72 C1154.77,116.50 1161.56,142.59 1168.46,161.32 C1175.37,180.05 1182.27,198.34 1189.17,217.09 C1196.08,235.85 1202.98,251.50 1209.89,273.87 C1216.79,296.23 1223.66,327.73 1230.60,351.29 C1237.54,374.84 1244.54,398.51 1251.51,415.21 C1258.48,431.92 1265.45,443.35 1272.42,451.52 C1279.40,459.69 1286.37,460.68 1293.34,464.25 C1300.31,467.81 1307.30,470.68 1314.25,472.93 C1321.20,475.17 1328.12,476.20 1335.06,477.74 C1342.00,479.27 1348.94,481.28 1355.88,482.13 C1362.81,482.98 1369.75,482.59 1376.69,482.84 C1383.62,483.08 1390.55,483.42 1397.50,483.60 C1404.45,483.78 1411.41,483.82 1418.36,483.89 C1425.32,483.97 1432.27,483.99 1439.23,484.04 C1446.18,484.08 1453.13,484.13 1460.09,484.18 C1467.04,484.23 1474.00,484.27 1480.95,484.32 C1487.90,484.37 1494.86,484.42 1501.81,484.46 C1508.77,484.51 1515.72,484.56 1522.67,484.61 C1529.63,484.65 1536.58,484.70 1543.54,484.75 C1550.49,484.80 1560.92,484.87 1564.40,484.89" fill="none" stroke="#ff0000" stroke-width="6.0" stroke-linejoin="round"/>
<circle cx="897.60" cy="73.64" r="6.3" fill="#ff0000"/>
<circle cx="918.34" cy="73.64" r="6.3" fill="#ff0000"/>
<circle cx="939.08" cy="73.64" r="6.3" fill="#ff0000"/>
<circle cx="959.81" cy="73.64" r="6.3" fill="#ff0000"/>
<circle cx="980.55" cy="73.64" r="6.3" fill="#ff0000"/>
<circle cx="1001.29" cy="73.64" r="6.3" fill="#ff0000"/>
<circle cx="1022.03" cy="73.64" r="6.3" fill="#ff0000"/>
<circle cx="1042.76" cy="73.64" r="6.3" fill="#ff0000"/>
<circle cx="1063.50" cy="73.64" r="6.3" fill="#ff0000"/>
<circle cx="1084.24" cy="73.64" r="6.3" fill="#ff0000"/>
<circle cx="1104.97" cy="74.52" r="6.3" fill="#ff0000"/>
<circle cx="1126.36" cy="90.65" r="6.3" fill="#ff0000"/>
<circle cx="1147.75" cy="104.72" r="6.3" fill="#ff0000"/>
<circle cx="1168.46" cy="161.32" r="6.3" fill="#ff0000"/>
<circle cx="1189.17" cy="217.09" r="6.3" fill="#ff0000"/>
<circle cx="1209.89" cy="273.87" r="6.3" fill="#ff0000"/>
<circle cx="1230.60" cy="351.29" r="6.3" fill="#ff0000"/>
<circle cx="1251.51" cy="415.21" r="6.3" fill="#ff0000"/>
<circle cx="1272.42" cy="451.52" r="6.3" fill="#ff0000"/>
<circle cx="1293.34" cy="464.25" r="6.3" fill="#ff0000"/>
<circle cx="1314.25" cy="472.93" r="6.3" fill="#ff0000"/>
<circle cx="1335.06" cy="477.74" r="6.3" fill="#ff0000"/>
<circle cx="1355.88" cy="482.13" r="6.3" fill="#ff0000"/>
<circle cx="1376.69" cy="482.84" r="6.3" fill="#ff0000"/>
<circle cx="1397.50" cy="483.60" r="6.3" fill="#ff0000"/>
<circle cx="1418.36" cy="483.89" r="6.3" fill="#ff0000"/>
<circle cx="1439.23" cy="484.04" r="6.3" fill="#ff0000"/>
<circle cx="1460.09" cy="484.18" r="6.3" fill="#ff0000"/>
<circle cx="1480.95" cy="484.32" r="6.3" fill="#ff0000"/>
<circle cx="1501.81" cy="484.46" r="6.3" fill="#ff0000"/>
<circle cx="1522.67" cy="484.61" r="6.3" fill="#ff0000"/>
<circle cx="1543.54" cy="484.75" r="6.3" fill="#ff0000"/>
<circle cx="1564.40" cy="484.89" r="6.3" fill="#ff0000"/>
</g>
<text x="98.30" y="22.90" font-size="29.5" font-weight="bold" text-anchor="end">0.8</text>
<text x="98.30" y="81.63" font-size="29.5" font-weight="bold" text-anchor="end">0.7</text>
<text x="98.30" y="140.36" font-size="29.5" font-weight="bold" text-anchor="end">0.6</text>
<text x="98.30" y="199.09" font-size="29.5" font-weight="bold" text-anchor="end">0.5</text>
<text x="98.30" y="257.82" font-size="29.5" font-weight="bold" text-anchor="end">0.4</text>
<text x="98.30" y="316.55" font-size="29.5" font-weight="bold" text-anchor="end">0.3</text>
<text x="98.30" y="375.28" font-size="29.5" font-weight="bold" text-anchor="end">0.2</text>
<text x="98.30" y="434.01" font-size="29.5" font-weight="bold" text-anchor="end">0.1</text>
<text x="98.30" y="492.74" font-size="29.5" font-weight="bold" text-anchor="end">0.0</text>
<text x="98.30" y="551.47" font-size="29.5" font-weight="bold" text-anchor="end">−0.1</text>
<text x="885.60" y="23.10" font-size="29.5" font-weight="bold" text-anchor="end">0.8</text>
<text x="885.60" y="81.75" font-size="29.5" font-weight="bold" text-anchor="end">0.7</text>
<text x="885.60" y="140.40" font-size="29.5" font-weight="bold" text-anchor="end">0.6</text>
<text x="885.60" y="199.05" font-size="29.5" font-weight="bold" text-anchor="end">0.5</text>
<text x="885.60" y="257.70" font-size="29.5" font-weight="bold" text-anchor="end">0.4</text>
<text x="885.60" y="316.35" font-size="29.5" font-weight="bold" text-anchor="end">0.3</text>
<text x="885.60" y="375.00" font-size="29.5" font-weight="bold" text-anchor="end">0.2</text>
<text x="885.60" y="433.65" font-size="29.5" font-weight="bold" text-anchor="end">0.1</text>
<text x="885.60" y="492.30" font-size="29.5" font-weight="bold" text-anchor="end">0.0</text>
<text x="885.60" y="550.95" font-size="29.5" font-weight="bold" text-anchor="end">−0.1</text>
<text x="109.90" y="578.20" font-size="29.5" font-weight="bold" text-anchor="middle">8</text>
<text x="273.70" y="578.20" font-size="29.5" font-weight="bold" text-anchor="middle">10</text>
<text x="437.50" y="578.20" font-size="29.5" font-weight="bold" text-anchor="middle">12</text>
<text x="601.30" y="578.20" font-size="29.5" font-weight="bold" text-anchor="middle">14</text>
<text x="765.10" y="578.20" font-size="29.5" font-weight="bold" text-anchor="middle">16</text>
<text x="896.00" y="577.00" font-size="29.5" font-weight="bold" text-anchor="middle">8</text>
<text x="1059.50" y="577.00" font-size="29.5" font-weight="bold" text-anchor="middle">10</text>
<text x="1223.00" y="577.00" font-size="29.5" font-weight="bold" text-anchor="middle">12</text>
<text x="1386.50" y="577.00" font-size="29.5" font-weight="bold" text-anchor="middle">14</text>
<text x="1550.00" y="577.00" font-size="29.5" font-weight="bold" text-anchor="middle">16</text>
<text x="272.55" y="62.00" font-size="34.60" font-weight="bold" fill="#000" textLength="71.11" lengthAdjust="spacingAndGlyphs">BLB</text>
<text x="246.20" y="437.70" font-size="34.62" font-weight="bold" fill="#000" textLength="53.83" lengthAdjust="spacingAndGlyphs">WL</text>
<text x="375.02" y="477.70" font-size="33.60" font-weight="bold" fill="#000" textLength="44.79" lengthAdjust="spacingAndGlyphs">BL</text>
<text x="138.30" y="221.70" font-size="35.62" font-weight="bold" fill="#000" textLength="240.79" lengthAdjust="spacingAndGlyphs">WAT-W/O SHE</text>
<text x="136.94" y="264.50" font-size="34.84" font-weight="bold" fill="#000" textLength="108.48" lengthAdjust="spacingAndGlyphs">1.20ps</text>
<text x="139.20" y="310.10" font-size="35.50" font-weight="bold" fill="#ff0000" textLength="202.46" lengthAdjust="spacingAndGlyphs">WAT-W SHE</text>
<text x="136.94" y="356.00" font-size="34.84" font-weight="bold" fill="#ff0000" textLength="108.48" lengthAdjust="spacingAndGlyphs">1.34ps</text>
<text x="649.77" y="176.90" font-size="34.10" font-weight="normal" fill="#000" textLength="41.33" lengthAdjust="spacingAndGlyphs">(a)</text>
<text x="576.80" y="243.30" font-size="44.59" font-weight="bold" fill="#ff0000" textLength="146.18" lengthAdjust="spacingAndGlyphs">NSFET</text>
<text x="361.15" y="630.90" font-size="34.83" font-weight="bold" fill="#000" textLength="154.18" lengthAdjust="spacingAndGlyphs">Time (ps)</text>
<text transform="translate(26.30,369.85) rotate(-90)" x="0" y="0" font-size="34.50" font-weight="bold" fill="#000" textLength="182.28" lengthAdjust="spacingAndGlyphs">Voltage (V)</text>
<text x="1059.79" y="61.70" font-size="34.04" font-weight="bold" fill="#000" textLength="69.95" lengthAdjust="spacingAndGlyphs">BLB</text>
<text x="1034.40" y="437.10" font-size="33.70" font-weight="bold" fill="#000" textLength="52.40" lengthAdjust="spacingAndGlyphs">WL</text>
<text x="1161.77" y="476.00" font-size="34.25" font-weight="bold" fill="#000" textLength="45.66" lengthAdjust="spacingAndGlyphs">BL</text>
<text x="926.30" y="221.70" font-size="35.51" font-weight="bold" fill="#000" textLength="239.98" lengthAdjust="spacingAndGlyphs">WAT-W/O SHE</text>
<text x="924.64" y="264.50" font-size="34.84" font-weight="bold" fill="#000" textLength="108.48" lengthAdjust="spacingAndGlyphs">1.24ps</text>
<text x="926.90" y="310.10" font-size="35.55" font-weight="bold" fill="#ff0000" textLength="202.76" lengthAdjust="spacingAndGlyphs">WAT-W SHE</text>
<text x="925.24" y="356.00" font-size="34.84" font-weight="bold" fill="#ff0000" textLength="108.48" lengthAdjust="spacingAndGlyphs">1.47ps</text>
<text x="1446.76" y="176.80" font-size="33.30" font-weight="normal" fill="#000" textLength="41.56" lengthAdjust="spacingAndGlyphs">(b)</text>
<text x="1372.58" y="261.60" font-size="44.89" font-weight="bold" fill="#ff0000" textLength="142.14" lengthAdjust="spacingAndGlyphs">FSFET</text>
<text x="1146.65" y="629.00" font-size="34.62" font-weight="bold" fill="#000" textLength="153.27" lengthAdjust="spacingAndGlyphs">Time (ps)</text>
<text transform="translate(813.60,369.65) rotate(-90)" x="0" y="0" font-size="34.50" font-weight="bold" fill="#000" textLength="182.38" lengthAdjust="spacingAndGlyphs">Voltage (V)</text>
<rect x="492.1" y="287.1" width="255.60" height="153.70" fill="#000"/>
<rect x="484.2" y="279.5" width="256.1" height="154.2" fill="#fff" stroke="#000" stroke-width="3"/>
<line x1="487.60" y1="300.60" x2="542.50" y2="300.60" stroke="#0000ff" stroke-width="6.0" stroke-linecap="round"/>
<circle cx="514.50" cy="300.60" r="6.3" fill="#0000ff"/>
<text x="556.59" y="310.80" font-size="30.00" font-weight="bold" fill="#000" textLength="164.09" lengthAdjust="spacingAndGlyphs">Q-W/O SHE</text>
<line x1="487.60" y1="338.60" x2="496.70" y2="338.60" stroke="#0000ff" stroke-width="6.0" stroke-linecap="round"/>
<line x1="512.40" y1="338.60" x2="527.50" y2="338.60" stroke="#0000ff" stroke-width="6.0" stroke-linecap="round"/>
<circle cx="514.50" cy="338.60" r="6.3" fill="#0000ff"/>
<text x="550.80" y="348.80" font-size="30.00" font-weight="bold" fill="#000" textLength="185.30" lengthAdjust="spacingAndGlyphs">QB-W/O SHE</text>
<line x1="487.60" y1="376.40" x2="542.50" y2="376.40" stroke="#ff0000" stroke-width="6.0" stroke-linecap="round"/>
<circle cx="514.50" cy="376.40" r="6.3" fill="#ff0000"/>
<text x="551.00" y="386.60" font-size="30.00" font-weight="bold" fill="#000" textLength="132.07" lengthAdjust="spacingAndGlyphs">Q-W SHE</text>
<line x1="487.60" y1="414.00" x2="496.70" y2="414.00" stroke="#ff0000" stroke-width="6.0" stroke-linecap="round"/>
<line x1="512.40" y1="414.00" x2="527.50" y2="414.00" stroke="#ff0000" stroke-width="6.0" stroke-linecap="round"/>
<circle cx="514.50" cy="414.00" r="6.3" fill="#ff0000"/>
<text x="551.00" y="424.20" font-size="30.00" font-weight="bold" fill="#000" textLength="153.18" lengthAdjust="spacingAndGlyphs">QB-W SHE</text>
<rect x="1284.4" y="296.1" width="255.40" height="153.50" fill="#000"/>
<rect x="1276.8" y="288.4" width="255.89999999999998" height="153.9" fill="#fff" stroke="#000" stroke-width="3"/>
<line x1="1280.20" y1="309.40" x2="1335.10" y2="309.40" stroke="#0000ff" stroke-width="6.0" stroke-linecap="round"/>
<circle cx="1307.10" cy="309.40" r="6.3" fill="#0000ff"/>
<text x="1349.50" y="319.60" font-size="30.00" font-weight="bold" fill="#000" textLength="163.89" lengthAdjust="spacingAndGlyphs">Q-W/O SHE</text>
<line x1="1280.20" y1="347.00" x2="1289.30" y2="347.00" stroke="#0000ff" stroke-width="6.0" stroke-linecap="round"/>
<line x1="1305.00" y1="347.00" x2="1320.10" y2="347.00" stroke="#0000ff" stroke-width="6.0" stroke-linecap="round"/>
<circle cx="1307.10" cy="347.00" r="6.3" fill="#0000ff"/>
<text x="1343.90" y="357.20" font-size="30.00" font-weight="bold" fill="#000" textLength="185.30" lengthAdjust="spacingAndGlyphs">QB-W/O SHE</text>
<line x1="1280.20" y1="385.10" x2="1335.10" y2="385.10" stroke="#ff0000" stroke-width="6.0" stroke-linecap="round"/>
<circle cx="1307.10" cy="385.10" r="6.3" fill="#ff0000"/>
<text x="1343.89" y="395.30" font-size="30.00" font-weight="bold" fill="#000" textLength="132.27" lengthAdjust="spacingAndGlyphs">Q-W SHE</text>
<line x1="1280.20" y1="422.70" x2="1289.30" y2="422.70" stroke="#ff0000" stroke-width="6.0" stroke-linecap="round"/>
<line x1="1305.00" y1="422.70" x2="1320.10" y2="422.70" stroke="#ff0000" stroke-width="6.0" stroke-linecap="round"/>
<circle cx="1307.10" cy="422.70" r="6.3" fill="#ff0000"/>
<text x="1343.90" y="432.90" font-size="30.00" font-weight="bold" fill="#000" textLength="153.18" lengthAdjust="spacingAndGlyphs">QB-W SHE</text>
</svg>
</body></html>
